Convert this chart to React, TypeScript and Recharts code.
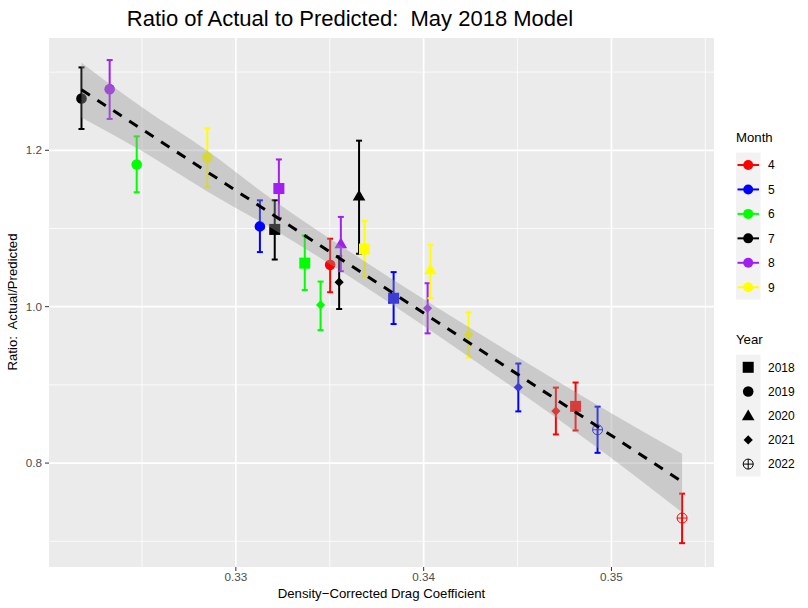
import React from "react";
import {
  ComposedChart,
  XAxis,
  YAxis,
  CartesianGrid,
  Scatter,
  ErrorBar,
  Area,
  Line,
} from "recharts";

// ─── data ─────────────────────────────────────────────────────────────────
const drag = [
  0.32178, 0.32328, 0.32472, 0.32848, 0.33229, 0.33128, 0.33207, 0.33367,
  0.33451, 0.33502, 0.3355, 0.33559, 0.33656, 0.33685, 0.3384, 0.34036,
  0.34021, 0.34239, 0.34504, 0.34704, 0.34809, 0.34926, 0.35376,
];
const ratio = [
  1.2662, 1.2782, 1.1819, 1.1909, 1.1511, 1.1027, 1.0988, 1.0557, 1.0022,
  1.0535, 1.0313, 1.0805, 1.1417, 1.0737, 1.0108, 1.0475, 0.998, 0.964,
  0.8969, 0.8665, 0.8725, 0.8426, 0.7297,
];
const ratioLo = [
  1.2272, 1.2401, 1.1463, 1.1528, 1.1135, 1.0698, 1.0603, 1.0214, 0.9701,
  1.0185, 0.997, 1.0454, 1.0677, 1.0385, 0.9778, 1.0108, 0.9659, 0.935,
  0.8661, 0.8366, 0.8417, 0.8131, 0.6976,
];
const ratioHi = [
  1.306, 1.3154, 1.2178, 1.2281, 1.1883, 1.136, 1.136, 1.0911, 1.0321, 1.0869,
  1.0647, 1.1148, 1.2123, 1.1096, 1.0442, 1.0792, 1.03, 0.9928, 0.9273,
  0.8965, 0.903, 0.8721, 0.7609,
];
const month = [7, 8, 6, 9, 8, 5, 7, 6, 6, 4, 7, 8, 7, 9, 5, 9, 8, 9, 5, 4, 4, 5, 4];
const year = [
  2019, 2019, 2019, 2019, 2018, 2019, 2018, 2018, 2021, 2019, 2021, 2020,
  2020, 2018, 2018, 2020, 2021, 2021, 2021, 2021, 2018, 2022, 2022,
];

const monthKeys = [4, 5, 6, 7, 8, 9];
const monthColors = ["#FF0000", "#0000FF", "#00FF00", "#000000", "#A020F0", "#FFFF00"];
const yearKeys = [2018, 2019, 2020, 2021, 2022];

// fitted line ends and confidence band edges
const fitX = [0.32178, 0.35376];
const fitY = [1.2773, 0.7763];
const bandX = [0.32178, 0.325, 0.3285, 0.332, 0.3366, 0.343, 0.3494, 0.35376];
const bandLo = [1.242, 1.199, 1.147, 1.099, 1.03, 0.926, 0.817, 0.737];
const bandHi = [1.312, 1.255, 1.199, 1.136, 1.062, 0.965, 0.872, 0.812];

const xTicks = [0.33, 0.34, 0.35];
const xMinor = [0.325, 0.335, 0.345, 0.355];
const yTicks = [0.8, 1.0, 1.2];
const yMinor = [0.7, 0.9, 1.1, 1.3];

const FONT = '"Liberation Sans", Arial, sans-serif';

type MarkerProps = { cx: number; cy: number; shape: number; fill: string };

function Marker({ cx, cy, shape, fill }: MarkerProps) {
  if (shape === 2018) return <rect x={cx - 5.5} y={cy - 5.5} width={11} height={11} fill={fill} />;
  if (shape === 2019) return <circle cx={cx} cy={cy} r={5.3} fill={fill} />;
  if (shape === 2020)
    return (
      <polygon
        points={`${cx},${cy - 6.2} ${cx - 6.3},${cy + 4.6} ${cx + 6.3},${cy + 4.6}`}
        fill={fill}
      />
    );
  if (shape === 2021)
    return (
      <polygon
        points={`${cx},${cy - 4.6} ${cx + 4.6},${cy} ${cx},${cy + 4.6} ${cx - 4.6},${cy}`}
        fill={fill}
      />
    );
  return (
    <g stroke={fill} strokeWidth={1} fill="none">
      <circle cx={cx} cy={cy} r={5} />
      <line x1={cx - 5} y1={cy} x2={cx + 5} y2={cy} />
      <line x1={cx} y1={cy - 5} x2={cx} y2={cy + 5} />
    </g>
  );
}

export default function App() {
  const rows = drag.map((x, i) => ({
    x,
    y: ratio[i],
    err: [ratio[i] - ratioLo[i], ratioHi[i] - ratio[i]],
    month: month[i],
    year: year[i],
  }));
  const bandRows = bandX.map((x, i) => ({ x, band: [bandLo[i], bandHi[i]] }));
  const fitRows = fitX.map((x, i) => ({ x, y: fitY[i] }));

  const tickStyle = { fill: "#4D4D4D", fontSize: 11.7, fontFamily: FONT };

  return (
    <div style={{ position: "absolute", left: 0, top: 0, width: 808, height: 608, background: "#fff", fontFamily: FONT }}>
      <ComposedChart width={808} height={608} margin={{ top: 38, right: 94, bottom: 0, left: 9 }}>
        <CartesianGrid
          fill="#EBEBEB"
          stroke="#FFFFFF"
          strokeWidth={0.8}
          verticalValues={xMinor}
          horizontalValues={yMinor}
        />
        <CartesianGrid
          stroke="#FFFFFF"
          strokeWidth={1.7}
          verticalValues={xTicks}
          horizontalValues={yTicks}
        />
        <XAxis
          type="number"
          dataKey="x"
          domain={[0.32005, 0.35546]}
          ticks={xTicks}
          allowDataOverflow
          height={41}
          axisLine={false}
          tickLine={{ stroke: "#333333" }}
          tickSize={4}
          tickMargin={2}
          tick={tickStyle}
          tickFormatter={(v: number) => v.toFixed(2)}
        />
        <YAxis
          type="number"
          dataKey="y"
          domain={[0.6671, 1.3436]}
          ticks={yTicks}
          allowDataOverflow
          width={40}
          axisLine={false}
          tickLine={{ stroke: "#333333" }}
          tickSize={4}
          tickMargin={3}
          tick={tickStyle}
          tickFormatter={(v: number) => v.toFixed(1)}
        />
        {monthKeys.map((m, k) => (
          <Scatter
            key={m}
            data={rows.filter((r) => r.month === m)}
            dataKey="y"
            isAnimationActive={false}
            shape={(p: any) => <Marker cx={p.cx} cy={p.cy} shape={p.payload.year} fill={monthColors[k]} />}
          >
            <ErrorBar dataKey="err" direction="y" width={3} strokeWidth={2} stroke={monthColors[k]} />
          </Scatter>
        ))}
        <Area
          data={bandRows}
          dataKey="band"
          type="monotone"
          stroke="none"
          fill="#999999"
          fillOpacity={0.4}
          isAnimationActive={false}
          zIndex={700}
        />
        <Line
          data={fitRows}
          dataKey="y"
          type="linear"
          stroke="#000000"
          strokeWidth={3}
          strokeDasharray="10 9"
          dot={false}
          isAnimationActive={false}
          zIndex={800}
        />
      </ComposedChart>

      <div style={{ position: "absolute", left: 0, width: 700, top: 6, textAlign: "center", fontSize: 22, whiteSpace: "pre", color: "#000" }}>
        {"Ratio of Actual to Predicted:  May 2018 Model"}
      </div>
      <div style={{ position: "absolute", left: 49, width: 665, top: 586, textAlign: "center", fontSize: 13.2, color: "#000" }}>
        Density−Corrected Drag Coefficient
      </div>
      <div
        style={{
          position: "absolute",
          left: 12,
          top: 302,
          transform: "translate(-50%, -50%) rotate(-90deg)",
          fontSize: 13.2,
          whiteSpace: "pre",
          color: "#000",
        }}
      >
        {"Ratio:  Actual/Predicted"}
      </div>

      <svg style={{ position: "absolute", left: 0, top: 0 }} width={808} height={608}>
        <text x={736} y={142} fontSize={13.2} fontFamily={FONT}>Month</text>
        <rect x={736} y={152.5} width={24.5} height={147} fill="#F2F2F2" />
        {monthKeys.map((m, k) => {
          const cy = 165 + k * 24.45;
          return (
            <g key={m}>
              <line x1={737.5} x2={759} y1={cy} y2={cy} stroke={monthColors[k]} strokeWidth={2} />
              <circle cx={748.2} cy={cy} r={5} fill={monthColors[k]} />
              <text x={768} y={cy + 4.3} fontSize={12} fontFamily={FONT}>{m}</text>
            </g>
          );
        })}
        <text x={736} y={344} fontSize={13.2} fontFamily={FONT}>Year</text>
        <rect x={736} y={354.5} width={24.5} height={122} fill="#F2F2F2" />
        {yearKeys.map((y, k) => {
          const cy = 367.3 + k * 24.2;
          return (
            <g key={y}>
              <Marker cx={748.2} cy={cy} shape={y} fill="#000000" />
              <text x={768} y={cy + 4.3} fontSize={12} fontFamily={FONT}>{y}</text>
            </g>
          );
        })}
      </svg>
    </div>
  );
}
